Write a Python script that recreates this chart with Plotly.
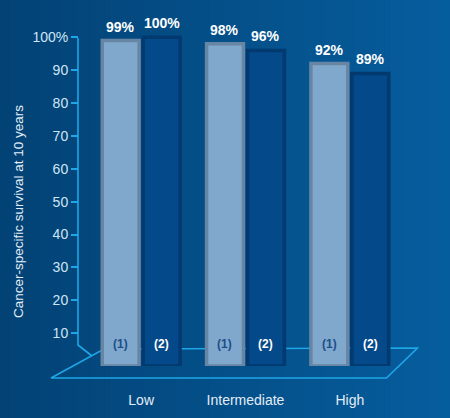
import plotly.graph_objects as go

# ---- data ----
categories = ["Low", "Intermediate", "High"]
group1_values = [99, 98, 92]
group2_values = [100, 96, 89]
group1_label = "(1)"
group2_label = "(2)"
ytick_vals = [10, 20, 30, 40, 50, 60, 70, 80, 90, 100]
ytick_text = ["10", "20", "30", "40", "50", "60", "70", "80", "90", "100%"]
y_title = "Cancer-specific survival at 10 years"

# ---- geometry helpers (pixels -> paper) ----
W, H = 450, 418
ML, MR, MT, MB = 78, 47.5, 11, 52
PW, PH = W - ML - MR, H - MT - MB


def px(x):
    return (x - ML) / PW


def py(y):
    return (H - MB - y) / PH


LIGHT = "#80a8cd"
LIGHT_EDGE = "#6886a4"
DARK = "#04498a"
DARK_EDGE = "#023a70"
CYAN = "#1ea6e6"
FONT = "Liberation Sans, Arial, sans-serif"

fig = go.Figure()
fig.add_trace(go.Bar(x=categories, y=group1_values, name="1",
                     marker=dict(color=LIGHT, line=dict(color=LIGHT_EDGE, width=3.5))))
fig.add_trace(go.Bar(x=categories, y=group2_values, name="2",
                     marker=dict(color=DARK, line=dict(color=DARK_EDGE, width=3.5))))

shapes = []
# background gradient strips
c0 = (3, 66, 117)
c1 = (6, 93, 157)
n = 90
for i in range(n):
    t = i / (n - 1)
    col = tuple(round(c0[k] + (c1[k] - c0[k]) * t) for k in range(3))
    x0 = i * W / n
    x1 = (i + 1) * W / n + 0.6
    shapes.append(dict(type="rect", xref="paper", yref="paper", layer="below",
                       x0=px(x0), x1=px(x1), y0=py(H + 2), y1=py(-2),
                       line=dict(width=0), fillcolor="rgb(%d,%d,%d)" % col))
# floor
floor = [(51, 378), (104, 349), (418, 348), (387, 378)]
path = "M " + " L ".join("%f,%f" % (px(a), py(b)) for a, b in floor) + " Z"
shapes.append(dict(type="path", xref="paper", yref="paper", layer="below", path=path,
                   line=dict(color=CYAN, width=1.6)))
# y axis line
axis_pts = [(78, 38), (78, 345), (92, 356)]
path2 = "M " + " L ".join("%f,%f" % (px(a), py(b)) for a, b in axis_pts)
shapes.append(dict(type="path", xref="paper", yref="paper", layer="below", path=path2,
                   line=dict(color=CYAN, width=1.6)))

annotations = []
shift = 20.5
for cat, v1, v2 in zip(categories, group1_values, group2_values):
    for v, xs, lab, lc in ((v1, -shift, group1_label, "#1d4e8c"),
                           (v2, shift, group2_label, "white")):
        annotations.append(dict(x=cat, y=v, xref="x", yref="y", xshift=xs, yshift=4,
                                text="<b>%d%%</b>" % v, showarrow=False, yanchor="bottom",
                                font=dict(family=FONT, size=14, color="white")))
        annotations.append(dict(x=cat, y=0, xref="x", yref="y", xshift=xs, yshift=13,
                                text="<b>%s</b>" % lab, showarrow=False, yanchor="bottom",
                                font=dict(family=FONT, size=12, color=lc)))
annotations.append(dict(x=px(18), y=py(212), xref="paper", yref="paper", text=y_title,
                        textangle=-90, showarrow=False, xanchor="center", yanchor="middle",
                        font=dict(family=FONT, size=13.5, color="#e3eef8")))

fig.update_layout(
    width=W, height=H,
    margin=dict(l=ML, r=MR, t=MT, b=MB, pad=0),
    paper_bgcolor="#04508c", plot_bgcolor="rgba(0,0,0,0)",
    barmode="group", bargap=0.215, bargroupgap=0.1,
    showlegend=False,
    shapes=shapes, annotations=annotations,
    xaxis=dict(domain=[11 / PW, 1], range=[-0.5, 2.5], showgrid=False, zeroline=False,
               showline=False, ticks="", ticklabelstandoff=24,
               tickfont=dict(family=FONT, size=14, color="#e3edf6")),
    yaxis=dict(range=[0, 108], anchor="free", position=0, showgrid=False, zeroline=False,
               showline=False, ticks="outside", ticklen=7, tickwidth=1.6, tickcolor=CYAN,
               tickvals=ytick_vals, ticktext=ytick_text,
               tickfont=dict(family=FONT, size=14, color="#cfe5f5")),
)

fig.write_html("out.html", config={"displayModeBar": False},
               post_script="document.body.style.margin='0';document.body.style.overflow='hidden';")
